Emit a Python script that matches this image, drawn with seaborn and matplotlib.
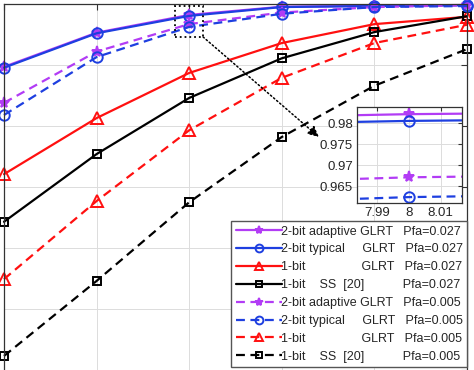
import numpy as np
import pandas as pd
import matplotlib
matplotlib.use('Agg')
import matplotlib.pyplot as plt
import seaborn as sns
from matplotlib.patches import Rectangle

# Values (SNR points and detection probabilities)
snr = [4, 6, 8, 10, 12, 14]
adapt_027 = [0.897, 0.953, 0.9821, 0.9955, 0.997, 0.9985]
typical_027 = [0.8956, 0.952, 0.9805, 0.995, 0.9967, 0.998]
onebit_027 = [0.721, 0.813, 0.887, 0.936, 0.967, 0.979]
ss_027 = [0.643, 0.754, 0.846, 0.911, 0.954, 0.980]
adapt_005 = [0.838, 0.922, 0.9671, 0.986, 0.995, 0.998]
typical_005 = [0.818, 0.913, 0.9624, 0.984, 0.995, 0.9967]
onebit_005 = [0.549, 0.677, 0.793, 0.879, 0.936, 0.966]
ss_005 = [0.423, 0.546, 0.675, 0.782, 0.866, 0.926]

labels = [
    '2-bit adaptive GLRT   Pfa=0.027',
    '2-bit typical     GLRT   Pfa=0.027',
    '1-bit                GLRT   Pfa=0.027',
    '1-bit    SS  [20]           Pfa=0.027',
    '2-bit adaptive GLRT   Pfa=0.005',
    '2-bit typical     GLRT   Pfa=0.005',
    '1-bit                GLRT   Pfa=0.005',
    '1-bit    SS  [20]           Pfa=0.005',
]
series = [adapt_027, typical_027, onebit_027, ss_027,
          adapt_005, typical_005, onebit_005, ss_005]

purple = '#B23CF5'
blue = '#1E3FE0'
red = '#FF1010'
black = '#000000'
colors = [purple, blue, red, black] * 2
markers = ['*', 'o', '^', 's'] * 2
msizes = [8, 7.5, 8.5, 6] * 2
dashed = [False] * 4 + [True] * 4

sns.set_style('whitegrid')
plt.rcParams['font.family'] = ['Liberation Sans', 'DejaVu Sans']
plt.rcParams['font.size'] = 9

fig = plt.figure(figsize=(4.74, 3.7), dpi=100)
# main axes extends below the visible figure (reference is cropped)
ax = fig.add_axes([4 / 474, (370 - 431) / 370, 463 / 474, 427 / 370])

for y, lab, c, m, ms, d in zip(series, labels, colors, markers, msizes, dashed):
    kw = dict(color=c, marker=m, markersize=ms, linewidth=1.6,
              markeredgewidth=1.4, label=lab, clip_on=False)
    if m != '*':
        kw['markerfacecolor'] = 'none'
    if d:
        kw['dashes'] = (4, 2.5)
    sns.lineplot(x=snr, y=y, ax=ax, markeredgecolor=c, **kw)

ax.set_xlim(4, 14)
ax.set_ylim(0.3, 1.0)
ax.set_xticks(np.arange(4, 15, 2))
ax.set_yticks(np.arange(0.3, 1.01, 0.1))
ax.tick_params(labelleft=False, labelbottom=False, direction='in',
               top=True, right=True, length=4, width=0.8, color='#333333')
ax.grid(True, color='#dcdcdc', linewidth=0.7)
for s in ax.spines.values():
    s.set_color('#333333')
    s.set_linewidth(0.9)

# zoom box and arrow
ax.add_patch(Rectangle((7.7, 0.946), 0.6, 0.0507, fill=False, linestyle=':',
                       linewidth=1.3, edgecolor='black', clip_on=False, zorder=5))
ax.annotate('', xy=(10.8, 0.782), xytext=(8.3, 0.946),
            arrowprops=dict(arrowstyle='-|>', linestyle=':', color='black',
                            linewidth=1.1, mutation_scale=16, shrinkA=0, shrinkB=0))

handles, labs = ax.get_legend_handles_labels()
leg = ax.legend(handles, labs, loc='lower right',
                bbox_to_anchor=(467 / 474, 3 / 370), bbox_transform=fig.transFigure,
                borderaxespad=0, frameon=True, fancybox=False, framealpha=1,
                edgecolor='#555555', fontsize=9, handlelength=3.7,
                handletextpad=-0.1, labelspacing=0.47, borderpad=0.35,
                markerscale=0.75)
leg.get_frame().set_linewidth(1.0)

# inset axes
axin = fig.add_axes([357 / 474, 1 - 203 / 370, 105 / 474, 96 / 370])
for y, c, m, ms, d in zip(series, colors, markers, msizes, dashed):
    kw = dict(color=c, marker=m, markersize=ms, linewidth=1.6,
              markeredgewidth=1.4, markeredgecolor=c)
    if m != '*':
        kw['markerfacecolor'] = 'none'
    if d:
        kw['dashes'] = (4, 2.5)
    sns.lineplot(x=snr, y=y, ax=axin, legend=False, **kw)
axin.set_xlim(7.9835, 8.0168)
axin.set_ylim(0.961, 0.9838)
axin.set_xticks([7.99, 8, 8.01])
axin.set_xticklabels(['7.99', '8', '8.01'])
axin.set_yticks([0.965, 0.97, 0.975, 0.98])
axin.set_yticklabels(['0.965', '0.97', '0.975', '0.98'])
axin.tick_params(direction='in', top=True, right=True, length=3,
                 labelsize=9.5, color='#333333', pad=3)
axin.grid(True, color='#dcdcdc', linewidth=0.7)
axin.set_facecolor('white')
for s in axin.spines.values():
    s.set_color('#333333')
    s.set_linewidth(0.9)

fig.savefig('out.png', dpi=100)
